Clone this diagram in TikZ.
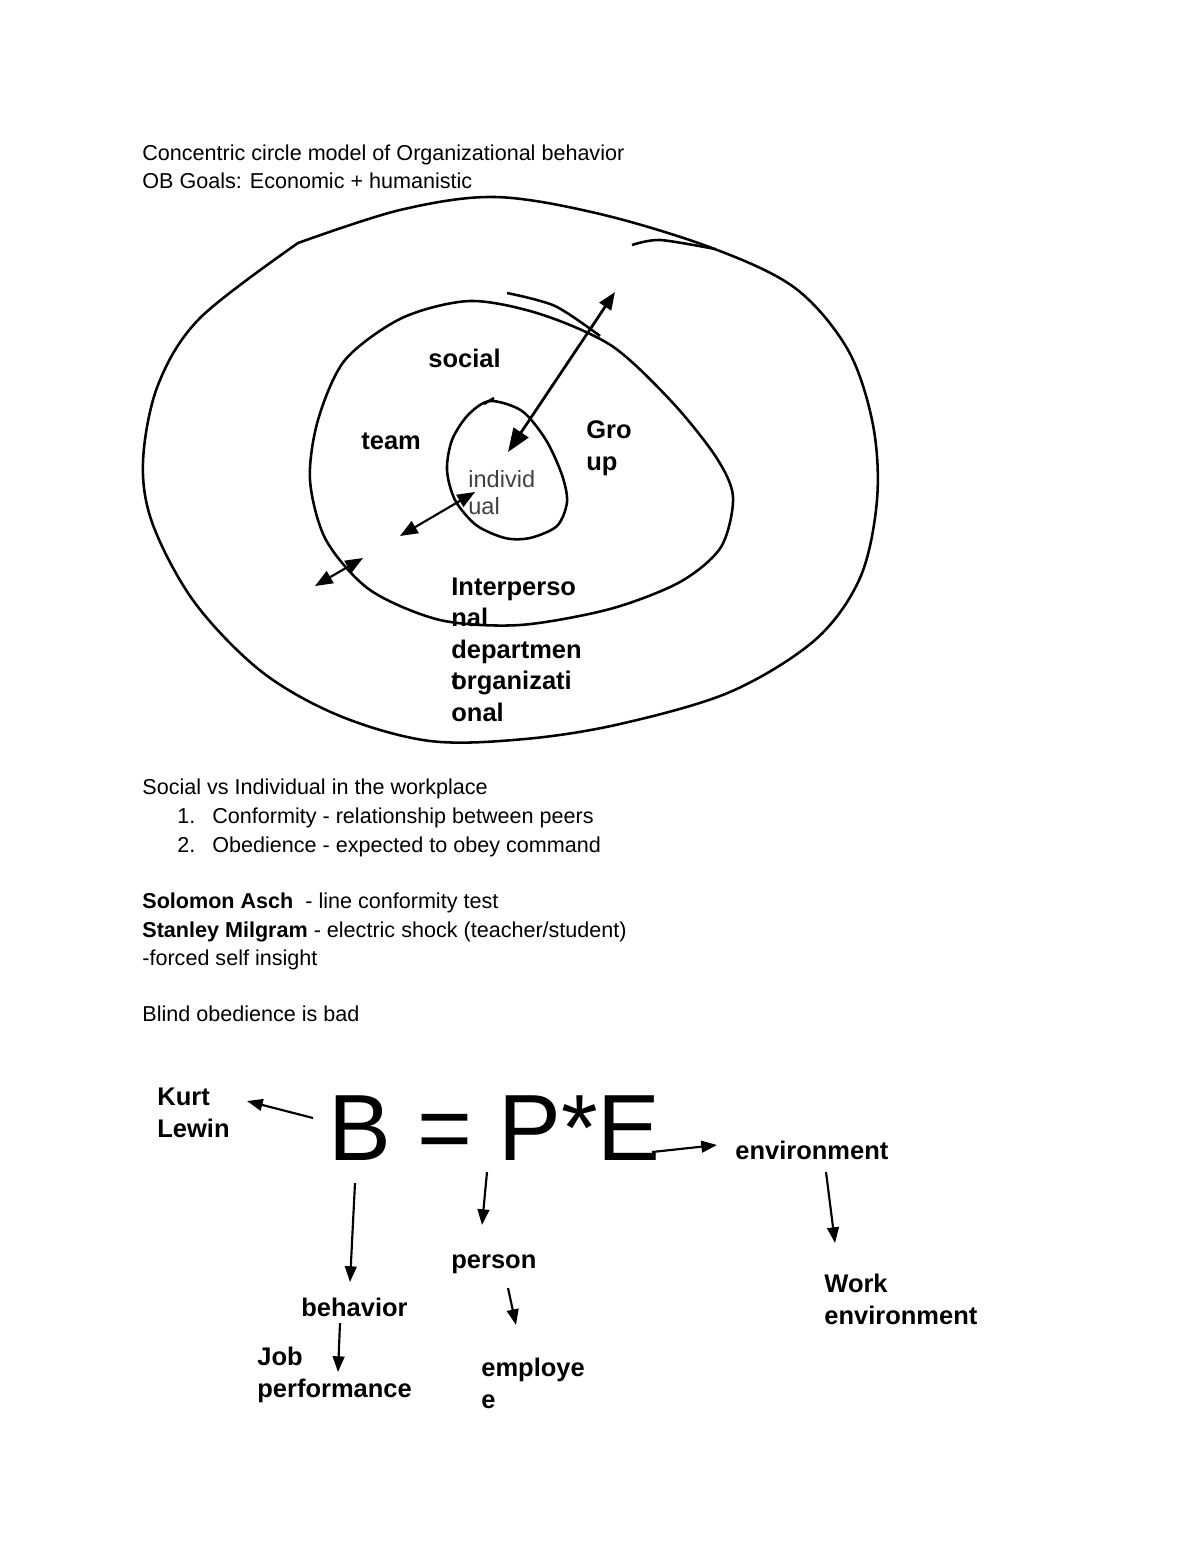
\documentclass[tikz,border=0pt]{standalone}
\usepackage{fontspec}
\setmainfont{Liberation Sans}
\usetikzlibrary{arrows.meta}
\begin{document}
\begin{tikzpicture}[x=0.51pt, y=-0.51pt,
    body/.style={anchor=base west, inner sep=0pt, font=\fontsize{11pt}{14pt}\selectfont},
    lbl/.style={anchor=base west, inner sep=0pt, align=left, font=\fontsize{13pt}{16pt}\selectfont\bfseries},
    ring/.style={line width=1.3pt, line join=round},
    twoway/.style={line width=1.1pt, {Triangle[length=9pt,width=7pt]}-{Triangle[length=9pt,width=7pt]}},
    oneway/.style={line width=1.1pt, -{Triangle[length=8pt,width=6pt]}}]
  \useasboundingbox (0,0) rectangle (1200,1553);
  % heading
  \node[body] (title) at (142,161) {Concentric circle model of Organizational behavior};
  \node[body] (goals) at (142,189) {OB Goals: Economic + humanistic};
  % the rings
  \draw[ring] plot[smooth, tension=0.55] coordinates {(298,243) (400,210) (495,197) (600,214) (712,248)
      (795,288) (848,350) (873,425) (877,500) (860,578) (815,640) (730,692) (620,724) (525,739)
      (430,741) (340,716) (262,672) (195,603) (153,525) (143,462) (158,385) (200,318) (298,243)};
  \draw[ring] plot[smooth] coordinates {(632,245) (660,240) (715,249)};
  \draw[ring] plot[smooth cycle] coordinates {(470,301) (540,314) (612,346) (672,402) (716,457)
      (733,497) (721,547) (680,582) (610,609) (520,625) (440,620) (370,590) (326,540) (310,480)
      (318,420) (345,360) (402,318)};
  \draw[ring] plot[smooth] coordinates {(507,293) (555,306) (600,336)};
  \draw[ring] plot[smooth cycle] coordinates {(490,401) (522,411) (546,440) (562,475) (567,502)
      (557,526) (530,538) (505,538) (476,525) (455,500) (447,470) (452,440) (468,415)};
  \draw[ring] (484,404) -- (494,398);
  % ring labels (multi-line nodes sit on their last baseline)
  \node[lbl] (social) at (428,367) {social};
  \node[lbl] (team) at (361,449) {team};
  \node[lbl] (group) at (586,470) {Gro\\up};
  \node[anchor=base west, inner sep=0pt, align=left, text=black!75,
        font=\fontsize{12pt}{13.3pt}\selectfont] (indiv) at (468,514) {individ\\ual};
  \node[lbl] (levels) at (451,721) {Interperso\\nal\\departmen\\\makebox[0pt][l]{t}organizati\\onal};
  % arrows across the rings
  \coordinate (outA) at (615,292);
  \coordinate (inA) at (508,452);
  \coordinate (inB) at (475,492);
  \coordinate (outB) at (400,536);
  \coordinate (inC) at (363,558);
  \coordinate (outC) at (315,586);
  \draw[twoway, line width=1.4pt, {Triangle[length=12pt,width=9pt]}-{Triangle[length=9pt,width=7pt]}] (inA) -- (outA);
  \draw[twoway] (inB) -- (outB);
  \draw[twoway] (inC) -- (outC);
  % notes
  \node[body] (social vs) at (142,794) {Social vs Individual in the workplace};
  \node[body] (n1) at (177,823) {1.};
  \node[body] (conform) at (212,823) {Conformity - relationship between peers};
  \node[body] (n2) at (177,852) {2.};
  \node[body] (obey) at (212,852) {Obedience - expected to obey command};
  \node[body] (asch) at (142,908) {\textbf{Solomon Asch}\ \ - line conformity test};
  \node[body] (milgram) at (142,937) {\textbf{Stanley Milgram} - electric shock (teacher/student)};
  \node[body] (insight) at (142,965) {-forced self insight};
  \node[body] (blind) at (142,1021) {Blind obedience is bad};
  % B = P*E
  \node[anchor=base west, inner sep=0pt, font=\fontsize{48pt}{52pt}\selectfont] (eq) at (328,1160) {B = P*E};
  \node[lbl] (kurt) at (157,1137) {Kurt\\Lewin};
  \node[lbl] (env) at (735,1159) {environment};
  \node[lbl] (beh) at (301,1316) {behavior};
  \node[lbl] (job) at (257,1397) {Job\\performance};
  \node[lbl] (person) at (451,1268) {person};
  \node[lbl] (employee) at (481,1408) {employe\\e};
  \node[lbl] (work) at (824,1324) {Work\\environment};
  \coordinate (kurtT) at (313,1118);
  \coordinate (kurtH) at (247,1101);
  \coordinate (envT) at (652,1152);
  \coordinate (envH) at (717,1145);
  \coordinate (behT) at (355,1183);
  \coordinate (behH) at (350,1282);
  \coordinate (jobT) at (340,1323);
  \coordinate (jobH) at (338,1372);
  \coordinate (perT) at (487,1172);
  \coordinate (perH) at (482,1225);
  \coordinate (empT) at (508,1288);
  \coordinate (empH) at (516,1325);
  \coordinate (workT) at (826,1172);
  \coordinate (workH) at (835,1243);
  \draw[oneway] (kurtT) -- (kurtH);
  \draw[oneway] (envT) -- (envH);
  \draw[oneway] (behT) -- (behH);
  \draw[oneway] (jobT) -- (jobH);
  \draw[oneway] (perT) -- (perH);
  \draw[oneway] (empT) -- (empH);
  \draw[oneway] (workT) -- (workH);
\end{tikzpicture}
\end{document}
